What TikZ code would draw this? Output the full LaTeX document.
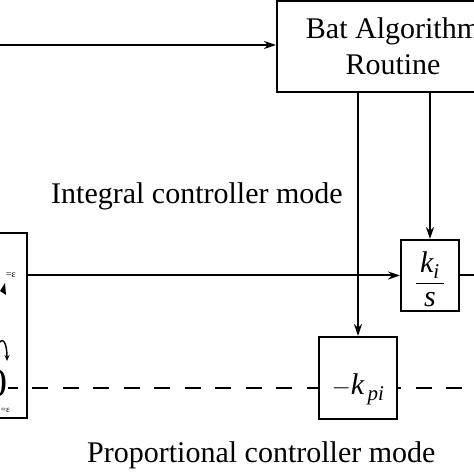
\documentclass[tikz,border=0pt]{standalone}
\usepackage{amsmath}
\usepackage{fontspec}
\setmainfont{Liberation Serif}
\usetikzlibrary{arrows.meta, positioning, calc}
\tikzset{
  blk/.style={
    rectangle, draw=black, line width=2pt, inner sep=0pt,
    font=\fontsize{30}{36}\selectfont
  },
  arrow/.style={-{Stealth[length=12pt,width=8pt]}, line width=2pt, #1},
  arrow/.default=black,
  dashline/.style={line width=2pt, dash pattern=on 16pt off 14.5pt},
  modetext/.style={font=\fontsize{30}{36}\selectfont, inner sep=0pt,
    anchor=base west},
  tinytext/.style={font=\fontsize{#1}{#1}\selectfont, inner sep=0pt,
    anchor=east}
}

\begin{document}
\begin{tikzpicture}[x=1pt,y=1pt]
  \useasboundingbox (0,0) rectangle (474,474);
  \clip (0,0) rectangle (474,474);
  % blocks
  \node[blk, minimum width=232pt, minimum height=91pt, align=center]
    (bat) at (393,427.5) {Bat Algorithm\\Routine};
  \node[blk, minimum width=58pt, minimum height=71pt,
        text height=49.5pt, text depth=21.5pt]
    (ki) at (430,198.5) {$\dfrac{\,\textit{k}_{\textit{i}}\,}{\textit{s}}$};
  \node[blk, minimum width=78pt, minimum height=82pt,
        text height=58pt, text depth=24pt]
    (kpi) at (358,96) {$-\textit{k}_{\,\textit{pi}}$};
  \node[blk, minimum width=120pt, minimum height=185pt]
    (relay) at (-33,148.5) {};
  % inside the switching block
  \node[tinytext=10] (epsup) at (16,199) {=ε};
  \node[tinytext=9] (epslo) at (10,64) {=ε};
  \node[tinytext=40] (zero) at (8,91) {0};
  \fill (5,191) -- (0,183) -- (6,179) -- cycle;
  \draw[-{Stealth[length=6pt,width=5pt]}, line width=1.4pt]
    (-1,131) .. controls (3,137) and (7,131) .. (7,113);
  % connectors
  \coordinate (bin) at (-5,429);
  \coordinate (iout) at (480,198.5);
  \coordinate (pout) at (480,86);
  \draw[arrow] (bin) -- (bin -| bat.west);
  \draw[arrow] (bat.south -| ki.north) -- (ki.north);
  \draw[arrow] (bat.south -| kpi.north) -- (kpi.north);
  \draw[arrow] (relay.east |- ki.west) -- (ki.west);
  \draw[line width=2pt] (ki.east) -- (iout);
  \draw[dashline, dash phase=6.5pt] (zero.east |- pout) -- (kpi.west |- pout);
  \draw[dashline, dash phase=13pt] (kpi.east |- pout) -- (pout);
  % mode labels
  \node[modetext] (intlbl) at (51,270) {Integral controller mode};
  \node[modetext] (proplbl) at (87,11) {Proportional controller mode};
\end{tikzpicture}
\end{document}
